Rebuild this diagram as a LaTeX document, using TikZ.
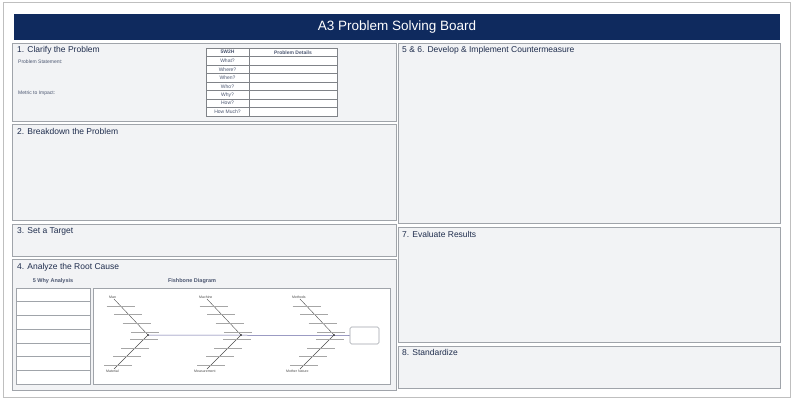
\documentclass[tikz,border=0pt]{standalone}
\usepackage{fontspec}
\setmainfont{Liberation Sans}
\definecolor{navy}{HTML}{0F2A5E}
\definecolor{pfill}{HTML}{F2F3F5}
\definecolor{pline}{HTML}{A0A4AA}
\definecolor{ttext}{HTML}{1F2D4D}
\begin{document}
\begin{tikzpicture}[x=1pt,y=-1pt,
  panel/.style={draw=pline,fill=pfill,line width=0.8pt},
  ptitle/.style={anchor=west,text=ttext,font=\fontsize{8.5}{9}\selectfont,inner sep=0},
  small/.style={font=\fontsize{5}{6}\selectfont,text=ttext!80,inner sep=0},
  cell/.style={draw=pline!80!black,fill=white,line width=0.5pt},
  bone/.style={draw=black!70,line width=0.4pt},
  rib/.style={draw=black!35,line width=0.4pt},
  tiny/.style={font=\fontsize{3.5}{4}\selectfont,text=black!70,inner sep=0}]
\useasboundingbox (0,0) rectangle (794,401);
\fill[white] (0,0) rectangle (794,401);
\draw[black!25,line width=1pt] (3,3) rectangle (790,397);
\fill[navy] (14,14) rectangle (780,40);
\node[text=white,font=\fontsize{13.5}{15}\selectfont] (title) at (397,27) {A3 Problem Solving Board};
% panels
\draw[panel] (12,43) rectangle (396,121);
\draw[panel] (12,124) rectangle (396,220);
\draw[panel] (12,224) rectangle (396,256);
\draw[panel] (12,259) rectangle (396,390);
\draw[panel] (398,43) rectangle (780,223);
\draw[panel] (398,227) rectangle (780,342);
\draw[panel] (398,346) rectangle (780,388);
\node[ptitle] (t1) at (17,50) {1. Clarify the Problem};
\node[ptitle] (t2) at (17,131) {2. Breakdown the Problem};
\node[ptitle] (t3) at (17,231) {3. Set a Target};
\node[ptitle] (t4) at (17,267) {4. Analyze the Root Cause};
\node[ptitle] (t56) at (402,50) {5 \& 6. Develop \& Implement Countermeasure};
\node[ptitle] (t7) at (402,234) {7. Evaluate Results};
\node[ptitle] (t8) at (402,352) {8. Standardize};
\node[small,anchor=west] (ps) at (18,62) {Problem Statement:};
\node[small,anchor=west] (mi) at (18,93) {Metric to Impact:};
% table
\foreach \i/\t in {0/5W2H,1/What?,2/Where?,3/When?,4/Who?,5/Why?,6/How?,7/How Much?}{
  \draw[cell] (206,48+\i*8.5) rectangle (249,56.5+\i*8.5);
  \draw[cell] (249,48+\i*8.5) rectangle (337,56.5+\i*8.5);
  \ifnum\i=0
    \node[small,font=\fontsize{5}{6}\bfseries] at (227.5,52.25) {\t};
  \else
    \node[small] at (227.5,52.25+\i*8.5) {\t};
  \fi
}
\node[small,font=\fontsize{5}{6}\bfseries] (pd) at (293,52.25) {Problem Details};
% 5 why
\node[small,font=\fontsize{5.5}{6}\bfseries] (fw) at (53,281) {5 Why Analysis};
\foreach \i in {0,...,6}{
  \draw[draw=pline,fill=white,line width=0.6pt] (16,288+\i*13.7) rectangle (90,301.7+\i*13.7);
}
% fishbone
\node[small,font=\fontsize{5.5}{6}\bfseries] (fd) at (192,281) {Fishbone Diagram};
\draw[draw=pline,fill=white,line width=0.6pt] (93,288) rectangle (390,384);
\node[draw=pline,line width=0.6pt,fill=white,rounded corners=1.5pt,minimum width=29pt,minimum height=17pt,inner sep=0] (head) at (364.5,335.5) {};
\coordinate (j1) at (148,335);
\coordinate (j2) at (241,335);
\coordinate (j3) at (334,335);
\draw[draw=black!60!blue!60,line width=0.5pt] (j1) -- (head.west);
\foreach \c/\x in {j1/148,j2/241,j3/334}{
  \fill (\c) circle (0.8);
  \draw[bone] (\x-34,299) -- (\c);
  \draw[bone] (\x-34,369) -- (\c);
  \foreach \y in {306,314,323,332}{
    \pgfmathsetmacro\bx{\x-34*(335-\y)/36}
    \draw[rib] (\bx-14,\y) -- (\bx+14,\y);
  }
  \foreach \y in {339,348,356,365}{
    \pgfmathsetmacro\bx{\x-34*(\y-335)/34}
    \draw[rib] (\bx-14,\y) -- (\bx+14,\y);
  }
}
\node[tiny,anchor=west] (l1) at (109,297) {Man};
\node[tiny,anchor=west] (l2) at (199,297) {Machine};
\node[tiny,anchor=west] (l3) at (292,297) {Methods};
\node[tiny,anchor=west] (l4) at (106,371) {Material};
\node[tiny,anchor=west] (l5) at (194,371) {Measurement};
\node[tiny,anchor=west] (l6) at (286,371) {Mother Nature};
\end{tikzpicture}
\end{document}
